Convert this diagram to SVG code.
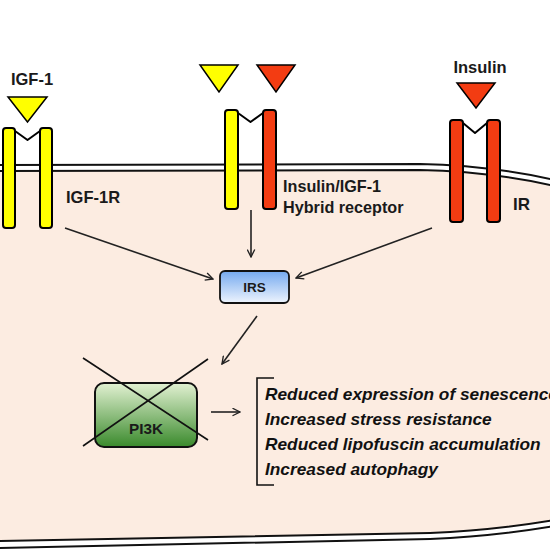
<svg xmlns="http://www.w3.org/2000/svg" width="550" height="550" viewBox="0 0 550 550">
<style>
.lbl{font-family:"Liberation Sans",Arial,sans-serif;font-weight:bold;fill:#1a1a1a}
.res{font-family:"Liberation Sans",Arial,sans-serif;font-weight:bold;font-style:italic;font-size:17.3px;fill:#111}
.mem{fill:none;stroke:#111;stroke-width:2}
.bar{stroke:#000;stroke-width:2}
.y{fill:#ffff00}
.r{fill:#f33c12}
.vee{fill:none;stroke:#000;stroke-width:2;stroke-linejoin:round}
.tri{stroke:#000;stroke-width:1.5;stroke-linejoin:miter}
.arr{fill:none;stroke:#222;stroke-width:1.6;marker-end:url(#ah)}
</style>
<defs>
<marker id="ah" viewBox="0 0 12 12" refX="11" refY="6" markerWidth="9" markerHeight="9" markerUnits="userSpaceOnUse" orient="auto">
<path d="M1,1 L11,6 L1,11" fill="none" stroke="#222" stroke-width="1.8"/>
</marker>
<linearGradient id="gBlue" x1="0" y1="0" x2="0" y2="1">
<stop offset="0" stop-color="#74a9ef"/>
<stop offset="1" stop-color="#eef4fd"/>
</linearGradient>
<linearGradient id="gGreen" x1="0" y1="0" x2="0" y2="1">
<stop offset="0" stop-color="#e2f1d2"/>
<stop offset="1" stop-color="#3a8a2c"/>
</linearGradient>
</defs>
<rect width="550" height="550" fill="#ffffff"/>
<g id="cell">
<path d="M-5,171 L420,170 C470,171 510,176 555,186 L555,520 C520,526 480,531 430,533 L-5,541 Z" fill="#fcece1"/>
<path class="mem" d="M-5,165 L420,164 C470,165 510,170 555,180"/>
<path class="mem" d="M-5,171 L420,170 C470,171 510,176 555,186"/>
<path class="mem" d="M-5,548 L430,539 C480,537 520,532 555,526"/>
<path class="mem" d="M-5,541 L430,533 C480,531 520,526 555,520"/>
</g>
<g id="igf1r">
<polygon class="tri y" points="8,97 47,97 27.5,122"/>
<text class="lbl" x="32" y="85" font-size="16.5" text-anchor="middle">IGF-1</text>
<rect class="bar y" x="3" y="128" width="12" height="100" rx="3"/>
<rect class="bar y" x="40" y="128" width="12" height="100" rx="3"/>
<path class="vee" d="M15,131 L27.5,140 L40,131"/>
<text class="lbl" x="66" y="203" font-size="16.5">IGF-1R</text>
</g>
<g id="hybrid">
<polygon class="tri y" points="200,65 238,65 219,92"/>
<polygon class="tri r" points="257,65 295,65 276,92"/>
<rect class="bar y" x="225" y="110" width="13" height="99" rx="3"/>
<rect class="bar r" x="263" y="110" width="13" height="99" rx="3"/>
<path class="vee" d="M238,113 L250.5,122 L263,113"/>
<text class="lbl" x="283" y="192" font-size="16.2">Insulin/IGF-1</text>
<text class="lbl" x="283" y="213" font-size="16.2">Hybrid receptor</text>
</g>
<g id="ir">
<text class="lbl" x="480" y="73" font-size="16.5" text-anchor="middle">Insulin</text>
<polygon class="tri r" points="457,83 495,83 476,108"/>
<rect class="bar r" x="450" y="120" width="13" height="102" rx="3"/>
<rect class="bar r" x="487" y="120" width="13" height="102" rx="3"/>
<path class="vee" d="M463,123 L475,133 L487,123"/>
<text class="lbl" x="513" y="210" font-size="17">IR</text>
</g>
<g id="irs">
<rect x="220" y="271" width="69" height="32" rx="5" fill="url(#gBlue)" stroke="#111" stroke-width="1.8"/>
<text class="lbl" x="254.5" y="292" font-size="13.5" text-anchor="middle">IRS</text>
</g>
<g id="pi3k">
<rect x="95" y="383" width="102" height="64" rx="9" fill="url(#gGreen)" stroke="#111" stroke-width="2"/>
<text class="lbl" x="146" y="434" font-size="15.3" text-anchor="middle">PI3K</text>
<line x1="83" y1="358" x2="208" y2="440" stroke="#111" stroke-width="1.6"/>
<line x1="208" y1="359" x2="83" y2="446" stroke="#111" stroke-width="1.6"/>
</g>
<g id="effects">
<path d="M274,378 L257,378 L257,485 L274,485" fill="none" stroke="#111" stroke-width="1.6"/>
<text class="res" x="265" y="400">Reduced expression of senescence</text>
<text class="res" x="265" y="425">Increased stress resistance</text>
<text class="res" x="265" y="450">Reduced lipofuscin accumulation</text>
<text class="res" x="265" y="475">Increased autophagy</text>
</g>
<g id="connectors">
<line class="arr" x1="65" y1="228" x2="213" y2="279"/>
<line class="arr" x1="251" y1="210" x2="251" y2="257"/>
<line class="arr" x1="432" y1="228" x2="296" y2="278"/>
<line class="arr" x1="257" y1="316" x2="222" y2="364"/>
<line class="arr" x1="211" y1="412" x2="240" y2="412"/>
</g>
</svg>
